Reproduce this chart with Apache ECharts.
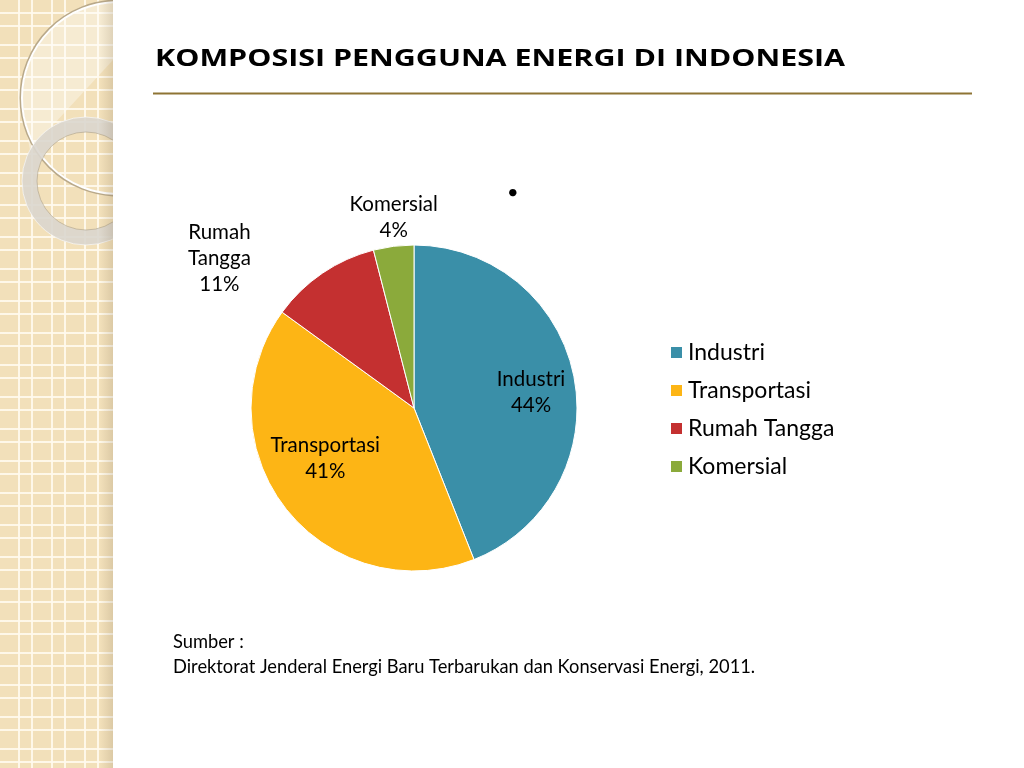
<!DOCTYPE html>
<html>
<head>
<meta charset="utf-8">
<script src="https://cdn.jsdelivr.net/npm/echarts@6/dist/echarts.min.js"></script>
<style>
  html, body { margin: 0; padding: 0; background: #fff; }
  #strip {
    position: absolute; left: 0; top: 0; width: 113px; height: 768px; overflow: hidden;
    background-color: #F2E0BA;
    background-image:
      linear-gradient(to right, rgba(255,250,238,0.9) 2px, transparent 2px),
      linear-gradient(to right, rgba(255,250,238,0.9) 2px, transparent 2px),
      linear-gradient(to bottom, rgba(255,250,238,0.9) 2px, transparent 2px),
      linear-gradient(to bottom, rgba(255,250,238,0.9) 2px, transparent 2px);
    background-size: 33px 32px, 33px 32px, 33px 32px, 33px 32px;
    background-position: 18px 0, 31px 0, 0 12px, 0 25px;
  }
  #shade { position: absolute; left: 100px; top: 0; width: 13px; height: 768px;
    background: linear-gradient(to right, rgba(0,0,0,0), rgba(120,100,70,0.18)); }
  #chart { position: absolute; left: 0; top: 0; width: 1024px; height: 768px; }
</style>
</head>
<body>
<div id="strip">
  <svg width="113" height="768" style="position:absolute;left:0;top:0">
    <path d="M 20 98 A 98 98 0 0 1 113 1 L 113 60 L 30 150 Z" fill="rgba(255,255,255,0.35)"/>
    <circle cx="118" cy="98" r="97" fill="none" stroke="#B9A98A" stroke-width="3"/>
    <circle cx="118" cy="98" r="96" fill="none" stroke="#FFFFFF" stroke-width="2"/>
    <circle cx="86" cy="181" r="56.5" fill="none" stroke="rgba(218,214,206,0.9)" stroke-width="15"/>
    <circle cx="86" cy="181" r="64" fill="none" stroke="rgba(255,255,255,0.6)" stroke-width="1"/>
    <circle cx="86" cy="181" r="49" fill="none" stroke="rgba(170,160,140,0.6)" stroke-width="1"/>
  </svg>
  <div id="shade"></div>
</div>
<div id="chart"></div>
<script>
const categories = ['Industri', 'Transportasi', 'Rumah Tangga', 'Komersial'];
const values = [44, 41, 11, 4];
const colors = ['#3A8FA8', '#FDB515', '#C43030', '#8BAA3B'];
const labelNames = ['Industri', 'Transportasi', 'Rumah\nTangga', 'Komersial'];
const labelInside = [true, true, false, false];
const titleText = 'KOMPOSISI PENGGUNA ENERGI DI INDONESIA';
const sourceText = 'Sumber :\nDirektorat Jenderal Energi Baru Terbarukan dan Konservasi Energi, 2011.';

const FONT = 'Lato, "Open Sans", sans-serif';
const TITLE_FONT = 'bold 24px "Open Sans", sans-serif';
const TITLE_WIDTH = 690;
const labelShift = [[34, 0], [-22, -1], [-44, -40], [17, -14]];

// measure title so it spans the same width as in the slide
const mctx = document.createElement('canvas').getContext('2d');
mctx.font = TITLE_FONT;
const titleScale = TITLE_WIDTH / mctx.measureText(titleText).width;

const chart = echarts.init(document.getElementById('chart'), null, { renderer: 'canvas' });
chart.setOption({
  backgroundColor: 'transparent',
  animation: false,
  color: colors,
  title: [
    { text: sourceText, left: 168, top: 625,
      textStyle: { fontFamily: FONT, fontWeight: 'normal', fontSize: 18.3, lineHeight: 25, color: '#000' } }
  ],
  graphic: [
    { type: 'text', x: 155, y: 47, scaleX: titleScale,
      style: { text: titleText, font: TITLE_FONT, fill: '#000' } },
    { type: 'line', shape: { x1: 153, y1: 93.5, x2: 972, y2: 93.5 },
      style: { stroke: '#8E7434', lineWidth: 2 } },
    { type: 'text', left: 507, top: 183,
      style: { text: '•', fontSize: 20, fill: '#000', fontFamily: FONT } }
  ],
  legend: {
    orient: 'vertical', left: 664, top: 336,
    icon: 'rect', itemWidth: 13, itemHeight: 13, itemGap: 15,
    textStyle: { fontFamily: FONT, fontSize: 23, color: '#000' },
    data: categories
  },
  series: [{
    type: 'pie',
    center: [414, 408],
    radius: 163,
    startAngle: 90,
    clockwise: true,
    itemStyle: { borderColor: '#fff', borderWidth: 1 },
    label: { fontFamily: FONT, fontSize: 20.5, color: '#000', lineHeight: 26, align: 'center',
      formatter: p => labelNames[p.dataIndex] + '\n' + p.value + '%' },
    labelLine: { show: false },
    labelLayout: p => ({ dx: labelShift[p.dataIndex][0], dy: labelShift[p.dataIndex][1], align: 'center' }),
    data: categories.map((c, i) => ({
      name: c, value: values[i],
      label: { position: labelInside[i] ? 'inside' : 'outside' },
      labelLine: { show: false, length: 15, length2: 10 }
    }))
  }]
});
</script>
</body>
</html>
